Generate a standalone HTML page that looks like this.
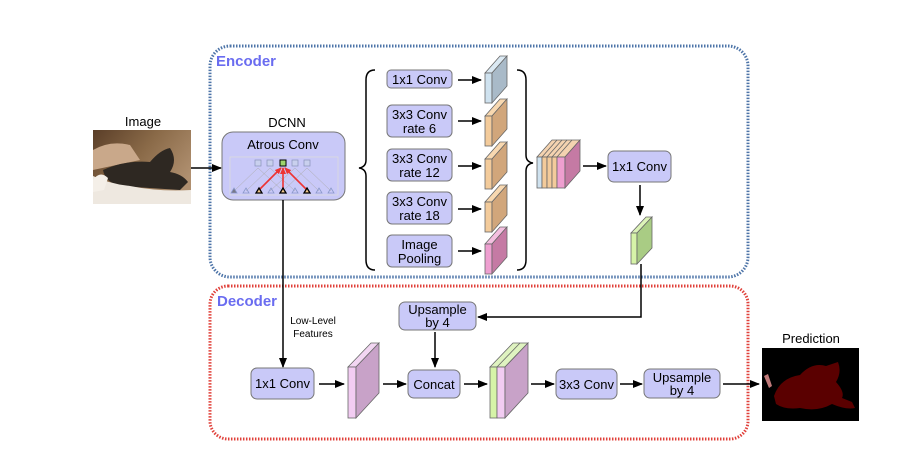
<!DOCTYPE html>
<html><head><meta charset="utf-8"><style>
html,body{margin:0;padding:0;background:#fff;}
svg{display:block;font-family:"Liberation Sans",sans-serif;}
</style></head><body>
<svg width="920" height="471" viewBox="0 0 920 471" xmlns="http://www.w3.org/2000/svg">
<defs>
<marker id="ah" markerWidth="10" markerHeight="8" refX="9" refY="4" orient="auto" markerUnits="userSpaceOnUse"><path d="M0,0 L10,4 L0,8 z" fill="#000"/></marker>
<marker id="rh" markerWidth="7" markerHeight="6" refX="6" refY="3" orient="auto" markerUnits="userSpaceOnUse"><path d="M0,0 L7,3 L0,6 z" fill="#e33"/></marker>
<linearGradient id="cat" x1="0" y1="0" x2="1" y2="0.6">
<stop offset="0" stop-color="#5a3e28"/><stop offset="0.5" stop-color="#8a6a48"/><stop offset="1" stop-color="#b09070"/></linearGradient>
</defs>

<rect x="210" y="46" width="538" height="231" rx="20" fill="none" stroke="#4d74a8" stroke-width="3" stroke-dasharray="1.5 1.5"/>
<rect x="210" y="286" width="538" height="153" rx="18" fill="none" stroke="#e0403a" stroke-width="3" stroke-dasharray="1.5 1.5"/>
<text x="216" y="66" font-size="15" font-weight="bold" fill="#6a6cf0">Encoder</text>
<text x="217" y="306" font-size="15" font-weight="bold" fill="#6a6cf0">Decoder</text>

<text x="143" y="126" font-size="13" text-anchor="middle">Image</text>
<rect x="93" y="130" width="98" height="74" fill="url(#cat)"/>
<path d="M93,150 Q110,140 130,145 L140,160 L93,170z" fill="#c9a88a"/>
<path d="M103,170 Q125,160 150,162 Q160,150 170,148 Q178,160 170,172 Q182,174 188,182 L180,190 Q150,188 120,186 Q105,182 103,170z" fill="#2e2822"/>
<path d="M93,176 Q110,184 130,186 Q160,192 191,190 L191,204 L93,204 z" fill="#eee8e0"/>
<path d="M93,180 Q100,170 108,178 L104,190 L93,192z" fill="#f4efe8"/>
<line x1="191" y1="168" x2="221" y2="168" stroke="#000" stroke-width="1.5" marker-end="url(#ah)"/>

<text x="287" y="127" font-size="13" text-anchor="middle">DCNN</text>
<rect x="222" y="132" width="123" height="68" rx="11" fill="#c9c9f8" stroke="#777" stroke-width="1"/>
<text x="283" y="149" font-size="13" text-anchor="middle">Atrous Conv</text>
<rect x="230" y="157" width="108" height="38" fill="none" stroke="#ddd" stroke-width="0.8"/>
<g stroke="#aaa" stroke-width="0.5">
<line x1="258" y1="168" x2="234" y2="191"/><line x1="258" y1="168" x2="283" y2="191"/>
<line x1="270" y1="168" x2="246" y2="191"/><line x1="270" y1="168" x2="295" y2="191"/>
<line x1="295" y1="168" x2="270" y2="191"/><line x1="295" y1="168" x2="319" y2="191"/>
<line x1="307" y1="168" x2="283" y2="191"/><line x1="307" y1="168" x2="331" y2="191"/>
</g>
<g fill="#c9d0ee" stroke="#8891b8" stroke-width="0.7">
<rect x="255" y="160" width="6" height="6"/><rect x="267" y="160" width="6" height="6"/>
<rect x="292" y="160" width="6" height="6"/><rect x="304" y="160" width="6" height="6"/>
</g>
<rect x="280" y="160" width="6" height="6" fill="#9cd36b" stroke="#000" stroke-width="1"/>
<g stroke="#e33" stroke-width="1.6">
<line x1="259" y1="190" x2="281" y2="168" marker-end="url(#rh)"/>
<line x1="283" y1="190" x2="283" y2="168" marker-end="url(#rh)"/>
<line x1="307" y1="190" x2="285" y2="168" marker-end="url(#rh)"/>
</g>
<g fill="none" stroke="#8a98c8" stroke-width="0.8">
<path d="M234,188 l3,5 h-6z" fill="#778"/><path d="M246,188 l3,5 h-6z"/><path d="M271,188 l3,5 h-6z"/><path d="M295,188 l3,5 h-6z"/><path d="M319,188 l3,5 h-6z"/><path d="M331,188 l3,5 h-6z"/>
</g>
<g fill="#f2c98e" stroke="#000" stroke-width="1.3">
<path d="M259,188 l3,5 h-6z"/><path d="M283,188 l3,5 h-6z"/><path d="M307,188 l3,5 h-6z"/>
</g>

<line x1="283" y1="200" x2="283" y2="367" stroke="#000" stroke-width="1.5" marker-end="url(#ah)"/>
<text x="313" y="324" font-size="10" text-anchor="middle">Low-Level</text>
<text x="313" y="337" font-size="10" text-anchor="middle">Features</text>

<path d="M375,70 Q366,70 366,80 L366,160 Q366,167 359,168 Q366,169 366,176 L366,260 Q366,270 375,270" fill="none" stroke="#000" stroke-width="1.5"/>
<path d="M517,70 Q526,70 526,80 L526,155 Q526,162 533,163 Q526,164 526,171 L526,260 Q526,270 517,270" fill="none" stroke="#000" stroke-width="1.5"/>

<g fill="#c9c9f8" stroke="#777" stroke-width="1">
<rect x="387" y="70" width="65" height="18" rx="4"/>
<rect x="387" y="105" width="65" height="32" rx="5"/>
<rect x="387" y="149" width="65" height="32" rx="5"/>
<rect x="387" y="192" width="65" height="32" rx="5"/>
<rect x="387" y="235" width="65" height="32" rx="5"/>
</g>
<g font-size="13" text-anchor="middle">
<text x="419.5" y="84">1x1 Conv</text>
<text x="419.5" y="119">3x3 Conv</text><text x="419.5" y="133">rate 6</text>
<text x="419.5" y="163">3x3 Conv</text><text x="419.5" y="177">rate 12</text>
<text x="419.5" y="206">3x3 Conv</text><text x="419.5" y="220">rate 18</text>
<text x="419.5" y="249">Image</text><text x="419.5" y="263">Pooling</text>
</g>
<g stroke="#000" stroke-width="1.5">
<line x1="458" y1="80" x2="481" y2="80" marker-end="url(#ah)"/>
<line x1="458" y1="121" x2="481" y2="121" marker-end="url(#ah)"/>
<line x1="458" y1="166" x2="481" y2="166" marker-end="url(#ah)"/>
<line x1="458" y1="209" x2="481" y2="209" marker-end="url(#ah)"/>
<line x1="458" y1="251" x2="481" y2="251" marker-end="url(#ah)"/>
</g>
<g stroke="#666" stroke-width="0.8">
<g><path d="M485,73 L500,56 L507,56 L492,73z" fill="#dbe9f3"/><rect x="485" y="73" width="7" height="30" fill="#cfe2ef"/><path d="M492,73 L507,56 L507,86 L492,103z" fill="#a9bac8"/></g>
<g transform="translate(0,43)"><path d="M485,73 L500,56 L507,56 L492,73z" fill="#f8d8b0"/><rect x="485" y="73" width="7" height="30" fill="#f3cb9b"/><path d="M492,73 L507,56 L507,86 L492,103z" fill="#d1a67b"/></g>
<g transform="translate(0,86)"><path d="M485,73 L500,56 L507,56 L492,73z" fill="#f8d8b0"/><rect x="485" y="73" width="7" height="30" fill="#f3cb9b"/><path d="M492,73 L507,56 L507,86 L492,103z" fill="#d1a67b"/></g>
<g transform="translate(0,129)"><path d="M485,73 L500,56 L507,56 L492,73z" fill="#f8d8b0"/><rect x="485" y="73" width="7" height="30" fill="#f3cb9b"/><path d="M492,73 L507,56 L507,86 L492,103z" fill="#d1a67b"/></g>
<g transform="translate(0,171)"><path d="M485,73 L500,56 L507,56 L492,73z" fill="#f4bfe0"/><rect x="485" y="73" width="7" height="30" fill="#ee9fd0"/><path d="M492,73 L507,56 L507,86 L492,103z" fill="#c57aa4"/></g>
</g>

<g stroke="#666" stroke-width="0.8">
<path d="M537,157 L552,140 L580,140 L565,157z" fill="#f4d3b0"/>
<rect x="537" y="157" width="5" height="31" fill="#cfe2ef"/>
<rect x="542" y="157" width="5" height="31" fill="#f3cb9b"/>
<rect x="547" y="157" width="5" height="31" fill="#f3cb9b"/>
<rect x="552" y="157" width="5" height="31" fill="#f3cb9b"/>
<rect x="557" y="157" width="8" height="31" fill="#ee9fd0"/>
<path d="M565,157 L580,140 L580,171 L565,188z" fill="#c57aa4"/>
<path d="M542,157 L557,140 M547,157 L562,140 M552,157 L567,140 M557,157 L572,140" fill="none"/>
</g>
<line x1="583" y1="166" x2="606" y2="166" stroke="#000" stroke-width="1.5" marker-end="url(#ah)"/>
<rect x="608" y="151" width="63" height="31" rx="6" fill="#c9c9f8" stroke="#777"/>
<text x="639.5" y="171" font-size="13" text-anchor="middle">1x1 Conv</text>
<line x1="640" y1="185" x2="640" y2="215" stroke="#000" stroke-width="1.5" marker-end="url(#ah)"/>
<g stroke="#666" stroke-width="0.8">
<path d="M631,233 L646,217 L652,217 L637,233z" fill="#dcf3b8"/>
<rect x="631" y="233" width="6" height="31" fill="#d6f3a8"/>
<path d="M637,233 L652,217 L652,248 L637,264z" fill="#a9cc84"/>
</g>
<polyline points="641,264 641,317 478,317" fill="none" stroke="#000" stroke-width="1.5" marker-end="url(#ah)"/>

<rect x="399" y="302" width="77" height="28" rx="6" fill="#c9c9f8" stroke="#777"/>
<text x="437.5" y="314" font-size="13" text-anchor="middle">Upsample</text>
<text x="437.5" y="327" font-size="13" text-anchor="middle">by 4</text>
<line x1="435" y1="332" x2="435" y2="367" stroke="#000" stroke-width="1.5" marker-end="url(#ah)"/>

<rect x="251" y="368" width="63" height="31" rx="6" fill="#c9c9f8" stroke="#777"/>
<text x="282.5" y="388" font-size="13" text-anchor="middle">1x1 Conv</text>
<line x1="319" y1="384" x2="344" y2="384" stroke="#000" stroke-width="1.5" marker-end="url(#ah)"/>
<g stroke="#666" stroke-width="0.8">
<path d="M348,367 L371,343 L379,343 L356,367z" fill="#f2d6f2"/>
<rect x="348" y="367" width="8" height="51" fill="#f2ccf2"/>
<path d="M356,367 L379,343 L379,393 L356,418z" fill="#c8a2c8"/>
</g>
<line x1="383" y1="384" x2="406" y2="384" stroke="#000" stroke-width="1.5" marker-end="url(#ah)"/>
<rect x="408" y="370" width="52" height="28" rx="6" fill="#c9c9f8" stroke="#777"/>
<text x="434" y="389" font-size="13" text-anchor="middle">Concat</text>
<line x1="464" y1="384" x2="487" y2="384" stroke="#000" stroke-width="1.5" marker-end="url(#ah)"/>
<g stroke="#666" stroke-width="0.8">
<path d="M490,367 L513,343 L528,343 L505,367z" fill="#dff3c0"/>
<path d="M497,367 L520,343" fill="none"/>
<rect x="490" y="367" width="7" height="51" fill="#d6f3a8"/>
<rect x="497" y="367" width="8" height="51" fill="#f2ccf2"/>
<path d="M505,367 L528,343 L528,393 L505,418z" fill="#c8a2c8"/>
</g>
<line x1="531" y1="384" x2="554" y2="384" stroke="#000" stroke-width="1.5" marker-end="url(#ah)"/>
<rect x="556" y="369" width="61" height="30" rx="6" fill="#c9c9f8" stroke="#777"/>
<text x="586.5" y="389" font-size="13" text-anchor="middle">3x3 Conv</text>
<line x1="620" y1="384" x2="642" y2="384" stroke="#000" stroke-width="1.5" marker-end="url(#ah)"/>
<rect x="644" y="369" width="76" height="29" rx="6" fill="#c9c9f8" stroke="#777"/>
<text x="682" y="382" font-size="13" text-anchor="middle">Upsample</text>
<text x="682" y="395" font-size="13" text-anchor="middle">by 4</text>
<line x1="723" y1="384" x2="759" y2="384" stroke="#000" stroke-width="1.5" marker-end="url(#ah)"/>

<text x="811" y="343" font-size="13" text-anchor="middle">Prediction</text>
<rect x="762" y="348" width="97" height="73" fill="#000"/>
<path d="M774,396 Q780,378 800,375 Q812,362 826,366 L838,362 Q842,372 836,382 Q845,392 842,398 L852,402 L855,408 Q846,410 832,404 Q818,412 800,408 Q785,410 776,404 z" fill="#5a0000"/>
<path d="M764,376 L768,374 L772,386 L769,388 z" fill="#c07a7a"/>
</svg>
</body></html>
